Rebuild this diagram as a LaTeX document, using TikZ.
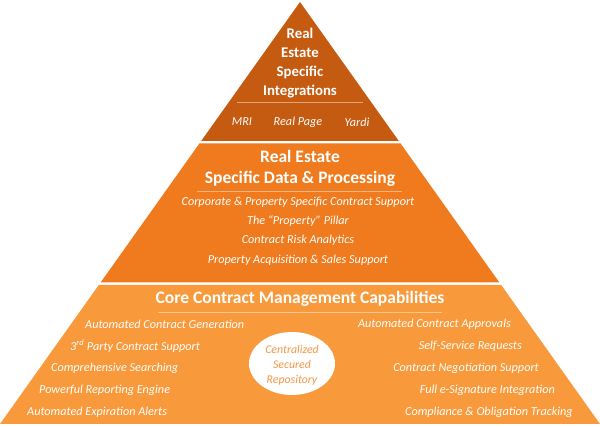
\documentclass[tikz,border=0pt]{standalone}
\usepackage{fontspec}
\setmainfont{Carlito}
\usetikzlibrary{shapes.geometric}
\definecolor{tierA}{HTML}{C55A11}
\definecolor{tierB}{HTML}{EF7B1E}
\definecolor{tierC}{HTML}{F8993B}
\definecolor{repo}{HTML}{F79646}
\begin{document}
\begin{tikzpicture}[x=1pt,y=-1pt,
  title/.style={text=white,font=\bfseries\fontsize{17.5}{21}\selectfont,align=center,inner sep=0pt},
  item/.style={text=white,font=\itshape\fontsize{12.2}{14}\selectfont,inner sep=0pt},
  sep/.style={line width=0.8pt}]
\useasboundingbox[fill=white] (0,0) rectangle (600,427);
% tiers
\fill[tierA] (300,2) -- (398.8,141) -- (201.2,141) -- cycle;
\fill[tierB] (199.4,143.5) -- (400.6,143.5) -- (499.4,282.5) -- (100.6,282.5) -- cycle;
\fill[tierC] (98.8,285) -- (501.2,285) -- (600,424) -- (0,424) -- cycle;
% separators
\draw[sep,color=white!45!tierA] (237,102) -- (363,102);
\draw[sep,color=white!45!tierB] (197,191) -- (402,191);
\draw[sep,color=white!45!tierC] (158,312) -- (442,312);
% top tier
\node[title,font=\bfseries\fontsize{14.8}{19}\selectfont] (t1) at (300,63.5) {Real\\Estate\\Specific\\Integrations};
\node[item] (mri) at (242,122) {MRI};
\node[item] (rp) at (298,122) {Real Page};
\node[item] (yardi) at (357,122) {Yardi};
% middle tier
\node[title] (t2) at (300,168) {Real Estate\\Specific Data \& Processing};
\node[item] (m1) at (298,202) {Corporate \& Property Specific Contract Support};
\node[item] (m2) at (298,221) {The “Property” Pillar};
\node[item] (m3) at (298,240) {Contract Risk Analytics};
\node[item] (m4) at (298,260) {Property Acquisition \& Sales Support};
% bottom tier
\node[title] (t3) at (300,299) {Core Contract Management Capabilities};
\node[item,anchor=west] (l1) at (85,324) {Automated Contract Generation};
\node[item,anchor=west] (l2) at (70,346) {3\textsuperscript{rd} Party Contract Support};
\node[item,anchor=west] (l3) at (51,368) {Comprehensive Searching};
\node[item,anchor=west] (l4) at (39,390) {Powerful Reporting Engine};
\node[item,anchor=west] (l5) at (27,412) {Automated Expiration Alerts};
\node[item,anchor=east] (r1) at (511,324) {Automated Contract Approvals};
\node[item,anchor=east] (r2) at (522,346) {Self-Service Requests};
\node[item,anchor=east] (r3) at (539,368) {Contract Negotiation Support};
\node[item,anchor=east] (r4) at (555,390) {Full e-Signature Integration};
\node[item,anchor=east] (r5) at (573,412) {Compliance \& Obligation Tracking};
\node[ellipse,fill=white,minimum width=86pt,minimum height=63pt,inner sep=0pt] (ell) at (292,363.5) {};
\node[item,text=repo,align=center,font=\itshape\fontsize{11.8}{15}\selectfont] (repo) at (292,365) {Centralized\\Secured\\Repository};
\end{tikzpicture}
\end{document}
